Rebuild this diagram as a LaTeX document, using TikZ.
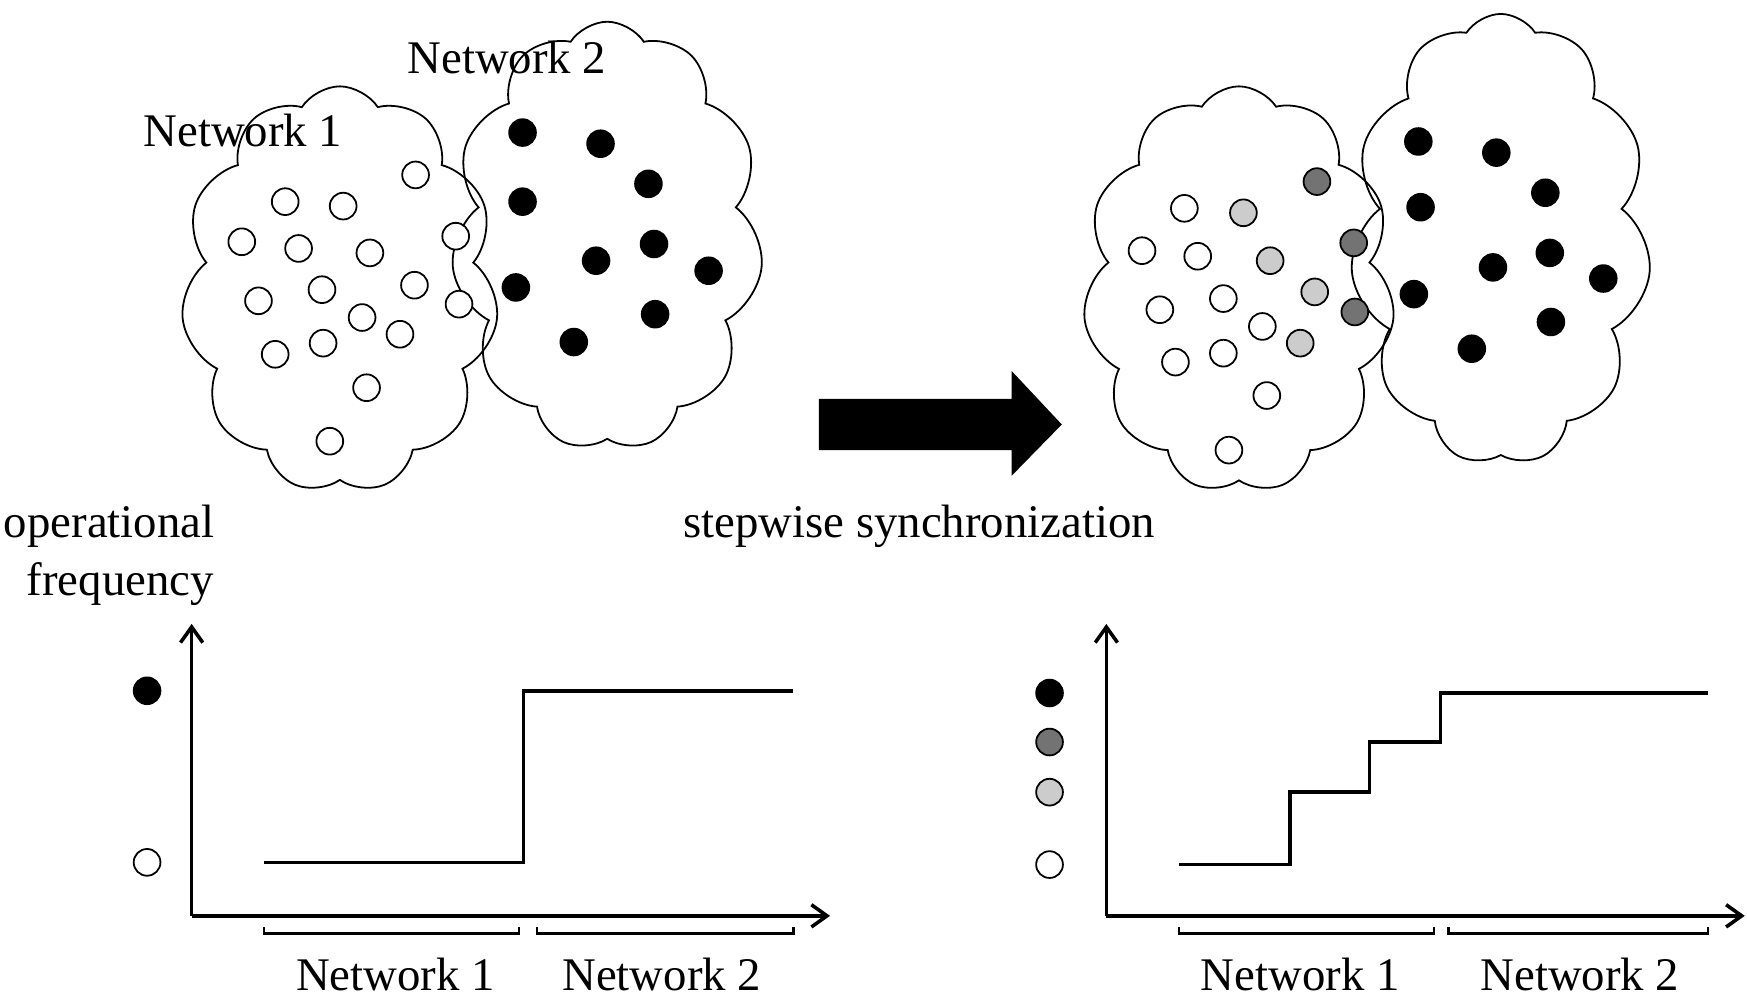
\documentclass[tikz,border=0pt]{standalone}
\usepackage{fontspec}
\setmainfont{Liberation Serif}
\usetikzlibrary{shapes.symbols,arrows.meta}
\begin{document}
\begin{tikzpicture}[x=0.5pt,y=-0.5pt,
  cl/.style={cloud,draw,line width=0.8pt,cloud puffs=11,cloud puff arc=115,inner sep=0pt,aspect=0.75},
  dot/.style={circle,draw,line width=0.8pt,minimum size=12pt,inner sep=0pt},
  w/.style={dot,fill=white},b/.style={dot,fill=black},
  lg/.style={dot,fill=black!20},dg/.style={dot,fill=black!55},
  ax/.style={line width=1.6pt,-{Straight Barb[length=7pt,width=10pt]}},
  st/.style={line width=1.6pt},
  br/.style={line width=1.1pt},
  lab/.style={font=\fontsize{21}{25}\selectfont,inner sep=0pt}]
\useasboundingbox (0,0) rectangle (1568,897);
\node[cl,minimum width=280pt*0.5,minimum height=385pt*0.5] (c2) at (545,212) {};
\node[cl,minimum width=285pt*0.5,minimum height=365pt*0.5] (c1) at (305,260) {};
\node[cl,minimum width=270pt*0.5,minimum height=405pt*0.5] (d2) at (1347,215) {};
\node[cl,minimum width=280pt*0.5,minimum height=365pt*0.5] (d1) at (1112,260) {};
\node[lab] (n2) at (455,52) {Network 2};
\node[lab] (n1) at (218,117) {Network 1};
\foreach \p [count=\i] in {(373,157),(256,181),(308,185),(217,217),(268,223),(332,227),(409,212),(289,260),(372,256),(232,270),(412,273),(325,285),(359,300),(247,318),(290,308),(329,348),(296,396)} \node[w] (lw\i) at \p {};
\foreach \p [count=\i] in {(469,119),(539,129),(582,165),(469,181),(587,219),(535,234),(636,243),(463,258),(588,282),(515,307)} \node[b] (lb\i) at \p {};
\foreach \p [count=\i] in {(1063,187),(1025,225),(1075,230),(1098,268),(1041,278),(1133,293),(1055,325),(1098,317),(1137,355),(1103,404)} \node[w] (rw\i) at \p {};
\foreach \p [count=\i] in {(1116,191),(1140,234),(1180,262),(1167,308)} \node[lg] (rl\i) at \p {};
\foreach \p [count=\i] in {(1182,163),(1215,218),(1216,280)} \node[dg] (rd\i) at \p {};
\foreach \p [count=\i] in {(1273,127),(1343,137),(1387,173),(1275,186),(1391,227),(1340,240),(1439,250),(1269,264),(1392,289),(1321,313)} \node[b] (rb\i) at \p {};
\fill (735,358) -- (908,358) -- (908,333) -- (953,381) -- (908,427) -- (908,404) -- (735,404) -- cycle;
\node[lab] (sw) at (825,472) {stepwise synchronization};
\node[lab] (op) at (98,472) {operational};
\node[lab] (fr) at (108,524) {frequency};
\coordinate (o1) at (172,822);
\draw[ax] (o1) -- (172,560);
\draw[ax] (o1) -- (745,822);
\draw[st] (237,774) -- (470,774) -- (470,620) -- (712,620);
\node[b] (pb) at (132,620) {};
\node[w] (pw) at (132,774) {};
\draw[br] (237,832) -- (237,838) -- (466,838) -- (466,832);
\draw[br] (482,832) -- (482,838) -- (712,838) -- (712,832);
\node[lab] (a1) at (355,875) {Network 1};
\node[lab] (a2) at (594,875) {Network 2};
\coordinate (o2) at (993,822);
\draw[ax] (o2) -- (993,560);
\draw[ax] (o2) -- (1566,822);
\draw[st] (1058,776) -- (1158,776) -- (1158,711) -- (1229,711) -- (1229,666) -- (1293,666) -- (1293,622) -- (1533,622);
\node[b] (qb) at (942,622) {};
\node[dg] (qd) at (942,666) {};
\node[lg] (ql) at (942,711) {};
\node[w] (qw) at (942,776) {};
\draw[br] (1058,832) -- (1058,838) -- (1287,838) -- (1287,832);
\draw[br] (1300,832) -- (1300,838) -- (1533,838) -- (1533,832);
\node[lab] (b1) at (1167,875) {Network 1};
\node[lab] (b2) at (1418,875) {Network 2};
\end{tikzpicture}
\end{document}
